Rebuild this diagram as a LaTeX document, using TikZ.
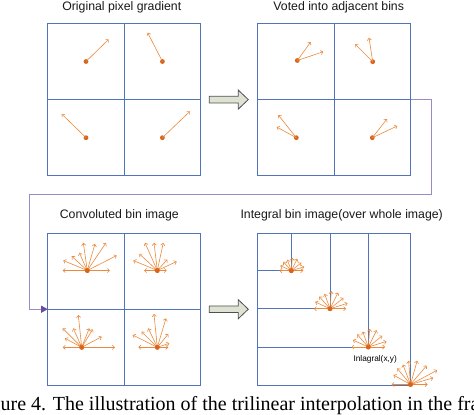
\documentclass[tikz,border=0pt]{standalone}
\usepackage{fontspec}
\setmainfont{Liberation Sans}
\newfontfamily\capfont{Liberation Serif}
\usetikzlibrary{arrows.meta}
\definecolor{gridblue}{HTML}{5174B8}
\definecolor{vecor}{HTML}{EB8A3C}
\definecolor{dotor}{HTML}{D9651C}
\definecolor{conpur}{HTML}{9A8BC4}
\definecolor{headpur}{HTML}{6A4C9C}
\definecolor{arrfill}{HTML}{DDE2D2}
\definecolor{arredge}{HTML}{505050}
\newcommand\fanat[3]{\foreach \dx/\dy in {#3} {\draw[vec] (#1.center) -- ++(#2*\dx,#2*\dy);}}
\newcommand\grayarrow[1]{\draw[garrow] (#1) -- ++(0,-3.3) -- ++(29,0) -- ++(0,-6.2) -- ++(10,9.5) -- ++(-10,9.5) -- ++(0,-6.2) -- ++(-29,0) -- cycle;}
\begin{document}
\begin{tikzpicture}[x=1pt,y=-1pt,
  panel/.style={draw=gridblue, line width=0.9pt, minimum width=153pt, minimum height=152.5pt, inner sep=0pt, outer sep=0pt},
  gline/.style={draw=gridblue, line width=0.9pt},
  vec/.style={draw=vecor, line width=0.6pt, -{Straight Barb[length=2.2pt,width=4.2pt]}},
  gdot/.style={circle, fill=dotor, inner sep=0pt, minimum size=4.8pt, outer sep=0pt},
  title/.style={font=\fontsize{12.3}{14}\selectfont, anchor=base, inner sep=0pt, text=black!90},
  con/.style={draw=conpur, line width=0.9pt, -{Triangle[length=6.5pt,width=7pt,color=headpur]}},
  garrow/.style={draw=arredge, fill=arrfill, line width=0.8pt, line join=miter}]
\clip (0,0) rectangle (474,415);
\fill[white] (0,0) rectangle (474,415);
% titles
\node[title] (t1) at (121.8,10.5) {Original pixel gradient};
\node[title] (t2) at (338.7,10.5) {Voted into adjacent bins};
\node[title] (t3) at (119.3,218.5) {Convoluted bin image};
\node[title] (t4) at (341.7,218.7) {Integral bin image(over whole image)};
% panels
\node[panel] (p1) at (124.2,99.65) {};
\node[panel] (p2) at (334.0,99.65) {};
\node[panel] (p3) at (124.2,309.2) {};
\node[panel] (p4) at (334.0,309.2) {};
\draw[gline] (p1.north) -- (p1.south) (p1.west) -- (p1.east);
\draw[gline] (p2.north) -- (p2.south) (p2.west) -- (p2.east);
\draw[gline] (p3.north) -- (p3.south) (p3.west) -- (p3.east);
% panel 4 integral regions
\coordinate (q1) at (291.3,270.7);
\coordinate (q2) at (330.0,308.7);
\coordinate (q3) at (368.3,347.0);
\coordinate (q4) at (410.5,384.5);
\draw[gline] (q1 |- p4.north) -- (q1) -- (q1 -| p4.west);
\draw[gline] (q2 |- p4.north) -- (q2) -- (q2 -| p4.west);
\draw[gline] (q3 |- p4.north) -- (q3) -- (q3 -| p4.west);
% connector
\coordinate (c1) at (431.3,194.3);
\coordinate (c2) at (29.0,194.3);
\draw[con] (p2.east) -| (c1) -- (c2) |- (p3.west);
% gray arrows
\coordinate (g1) at (209.3,99.6);
\coordinate (g2) at (209.3,309.2);
\grayarrow{g1}
\grayarrow{g2}
% panel 1 vectors
\node[gdot] (a1) at (86.0,61.5) {};
\node[gdot] (a2) at (162.4,61.5) {};
\node[gdot] (a3) at (86.0,137.7) {};
\node[gdot] (a4) at (162.4,137.7) {};
\draw[vec] (a1.center) -- ++(22.7,-22.2);
\draw[vec] (a2.center) -- ++(-14.7,-28.8);
\draw[vec] (a3.center) -- ++(-24.3,-23.7);
\draw[vec] (a4.center) -- ++(27.6,-26.4);
% panel 2 vectors
\node[gdot] (b1) at (297.3,60.5) {};
\node[gdot] (b2) at (372.7,61.7) {};
\node[gdot] (b3) at (296.3,137.7) {};
\node[gdot] (b4) at (372.3,137.7) {};
\draw[vec] (b1.center) -- ++(13.4,-18.5);
\draw[vec] (b1.center) -- ++(26.0,-8.8);
\draw[vec] (b2.center) -- ++(-3.7,-24.0);
\draw[vec] (b2.center) -- ++(-17.7,-17.7);
\draw[vec] (b3.center) -- ++(-18.0,-22.7);
\draw[vec] (b3.center) -- ++(-19.6,-10.7);
\draw[vec] (b4.center) -- ++(14.7,-18.7);
\draw[vec] (b4.center) -- ++(25.0,-11.7);
% panel 3 fans
\node[gdot] (f1) at (87.3,270.5) {};
\node[gdot] (f2) at (157.3,270.5) {};
\node[gdot] (f3) at (81.7,347.3) {};
\node[gdot] (f4) at (157.3,347.3) {};
\fanat{f1}{1}{-24.6/0,22.7/0,-24/-10,-15.6/-14.3,-8/-17.7,-4/-27.7,7.7/-26.7,18.7/-27.7,29.4/-15}
\fanat{f2}{1}{-13.3/0,9.4/0,-24/-10,-18/-16.7,-12.3/-27.7,-3.3/-27.7,6/-27.7,10/-11,19.4/-9}
\fanat{f3}{1}{-19/0,33.3/0,-19/-19,-16.7/-9,-8.4/-19,-3.4/-32.3,7.6/-19,11/-18,20/-10.6}
\fanat{f4}{1}{-19/0,11/0,-24.6/-12.3,-15.6/-15.6,-9/-19,-3.3/-33.3,8.7/-29,11/-13.3,12/-4}
\node[gdot] at (f1) {};
\node[gdot] at (f2) {};
\node[gdot] at (f3) {};
\node[gdot] at (f4) {};
% panel 4 fans
\node[gdot] (h1) at (q1) {};
\node[gdot] (h2) at (q2) {};
\node[gdot] (h3) at (q3) {};
\node[gdot] (h4) at (q4) {};
\fanat{h1}{1}{-12/0,12/0,-11/-5,-8/-9,-4/-11,1/-13,6/-12,10/-8,13/-4}
\fanat{h2}{1.35}{-12/0,12/0,-11/-5,-8/-9,-4/-11,1/-13,6/-12,10/-8,13/-4}
\fanat{h3}{1.4}{-12/0,12/0,-11/-5,-8/-9,-4/-11,1/-13,6/-12,10/-8,13/-4}
\fanat{h4}{1.9}{-10/0,9/0,-9/-5,-7/-8.5,-4/-10.5,-1/-12.5,3.5/-12.5,8.5/-10,14/-7.5,12/-3.5}
\node[gdot] at (h1) {};
\node[gdot] at (h2) {};
\node[gdot] at (h3) {};
\node[gdot] at (h4) {};
\node[anchor=base, inner sep=0pt, font=\fontsize{8.3}{9}\selectfont] (il) at (375.2,361.7) {Inlagral(x,y)};
% caption (cut by the frame, as in the reference)
\node[anchor=base west, inner sep=0pt, font=\capfont\fontsize{20}{22}\selectfont] (cap) at (0.5,410.5) {\llap{Fig}ure 4. The illustration of the trilinear interpolation in the framework};
\end{tikzpicture}
\end{document}
